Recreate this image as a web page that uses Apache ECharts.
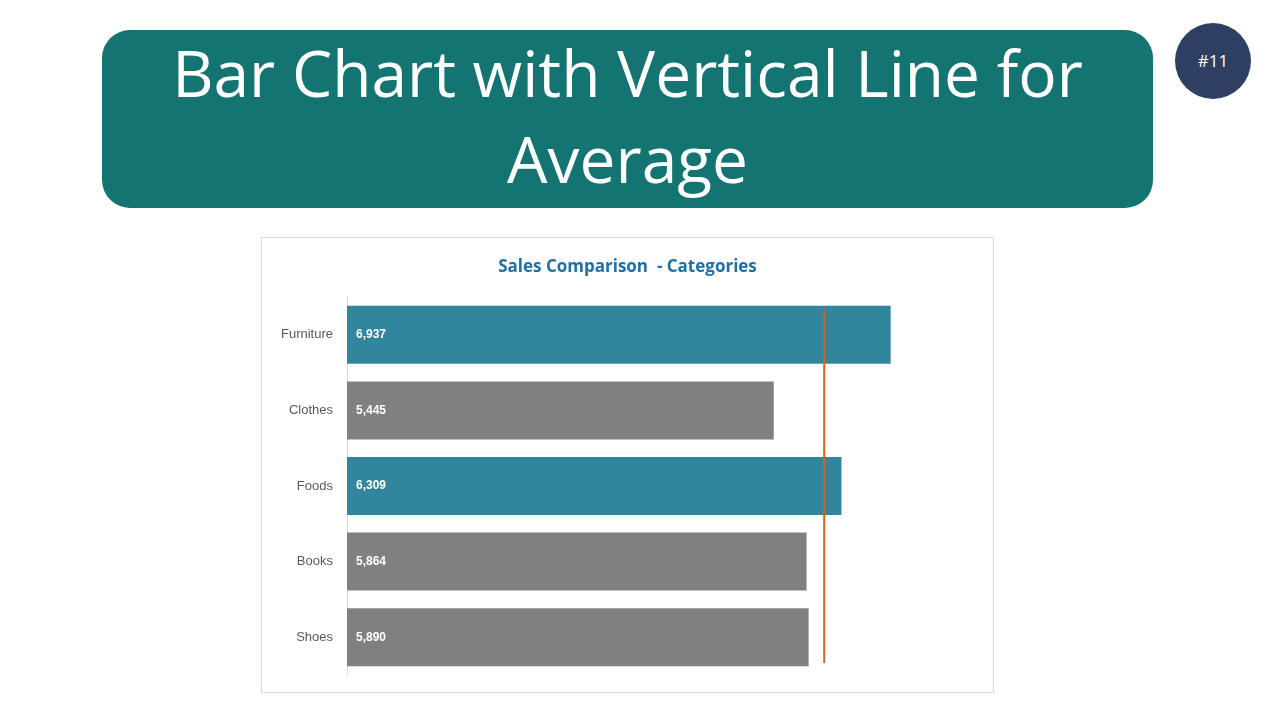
<!DOCTYPE html>
<html>
<head>
<meta charset="utf-8">
<script src="https://cdn.jsdelivr.net/npm/echarts@6/dist/echarts.min.js"></script>
<style>
  body { margin: 0; width: 1280px; height: 720px; background: #fff; position: relative; overflow: hidden; font-family: "Open Sans", "Liberation Sans", sans-serif; }
  #banner { position: absolute; left: 102px; top: 30px; width: 1051px; height: 178px; background: #137472; border-radius: 28px; color: #fff; font-size: 64px; line-height: 86px; text-align: center; }
  #badge { position: absolute; left: 1175px; top: 23px; width: 76px; height: 76px; border-radius: 50%; background: #2e3f63; color: #fff; font-size: 17px; line-height: 76px; text-align: center; }
  #chart { position: absolute; left: 261px; top: 237px; width: 731px; height: 454px; border: 1px solid #d9d9d9; }
</style>
</head>
<body>
<div id="banner">Bar Chart with Vertical Line for<br>Average</div>
<div id="badge">#11</div>
<div id="chart"></div>
<script>
// 数据
var categories = ['Furniture', 'Clothes', 'Foods', 'Books', 'Shoes'];
var sales = [6937, 5445, 6309, 5864, 5890];

var total = 0;
for (var i = 0; i < sales.length; i++) total += sales[i];
var average = total / sales.length;

var myChart = echarts.init(document.getElementById('chart'));

var option = {
    title: {
        text: 'Sales Comparison  - Categories',
        left: 'center',
        top: 16,
        textStyle: { color: '#1f6fa8', fontSize: 17, fontWeight: 'bold', fontFamily: 'Open Sans' }
    },
    grid: { left: 85, top: 59, width: 627, height: 378 },
    xAxis: [{
        type: 'value', min: 0, max: 8000,
        show: false
    }],
    yAxis: [{
        type: 'category',
        data: categories,
        inverse: true,
        axisLine: { lineStyle: { color: '#d9d9d9' } },
        axisTick: { show: false },
        axisLabel: { color: '#595959', fontSize: 13, margin: 14 }
    }, {
        type: 'value', min: 0, max: 1, show: false
    }],
    series: [{
        type: 'bar',
        barWidth: 58,
        data: sales.map(function (v) {
            return { value: v, itemStyle: { color: v > average ? '#31859c' : '#808080' } };
        }),
        label: {
            show: true, position: 'insideLeft', offset: [4, 0],
            color: '#fff', fontWeight: 'bold', fontSize: 12,
            formatter: function (p) { return p.value.toLocaleString('en-US'); }
        }
    }, {
        type: 'line',
        yAxisIndex: 1,
        data: [[average, 0.032], [average, 0.968]],
        symbol: 'none',
        lineStyle: { color: '#d0651a', width: 2 }
    }]
};

myChart.setOption(option);
</script>
</body>
</html>
